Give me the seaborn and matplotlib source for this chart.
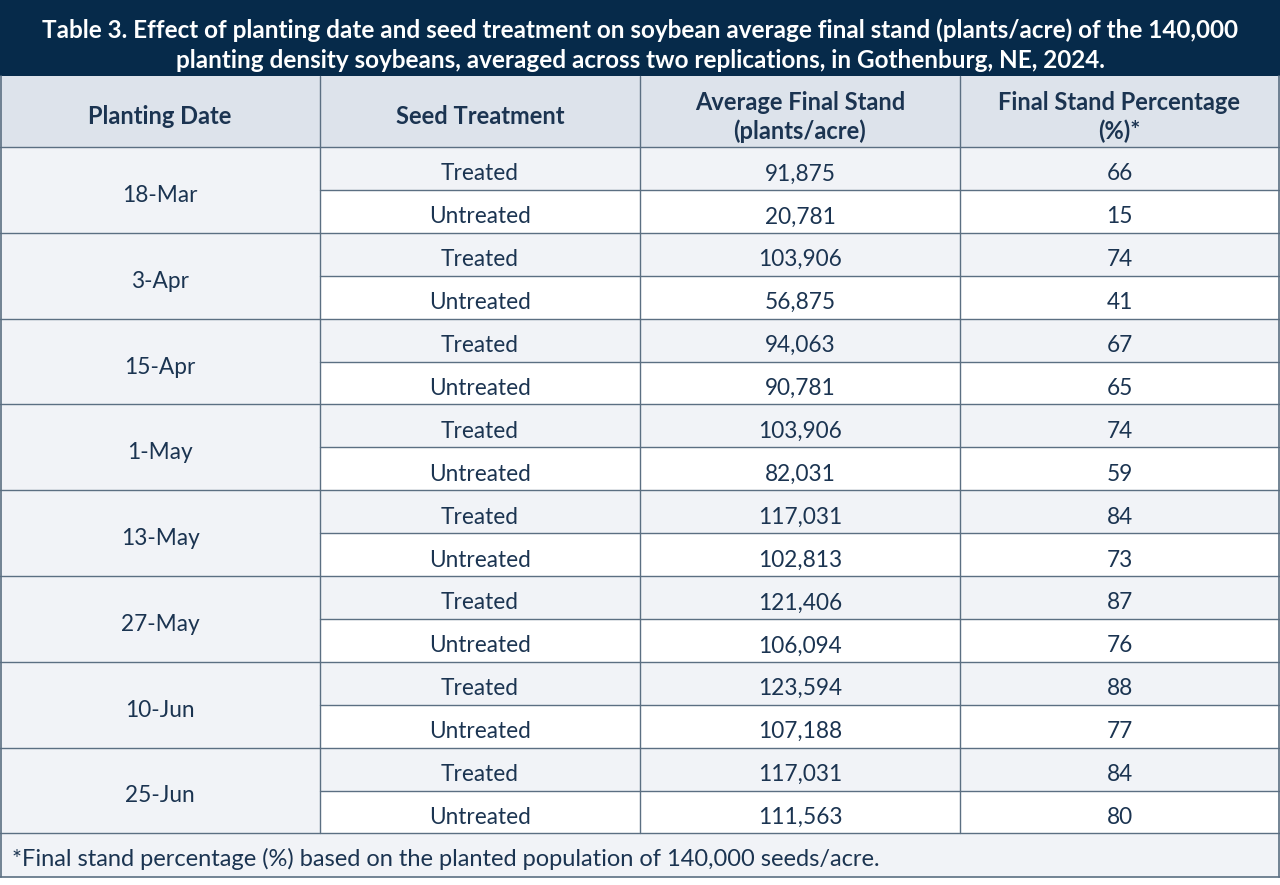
import numpy as np
import matplotlib.pyplot as plt
import seaborn as sns
from matplotlib.patches import Rectangle

# DATA
dates = ["18-Mar", "3-Apr", "15-Apr", "1-May", "13-May", "27-May", "10-Jun", "25-Jun"]
treatments = ["Treated", "Untreated"]
final_stand = [91875, 20781, 103906, 56875, 94063, 90781, 103906, 82031,
               117031, 102813, 121406, 106094, 123594, 107188, 117031, 111563]
stand_pct = [66, 15, 74, 41, 67, 65, 74, 59, 84, 73, 87, 76, 88, 77, 84, 80]
headers = ["Planting Date", "Seed Treatment", "Average Final Stand\n(plants/acre)",
           "Final Stand Percentage\n(%)*"]
title = ("Table 3. Effect of planting date and seed treatment on soybean average final stand (plants/acre) of the 140,000\n"
         "planting density soybeans, averaged across two replications, in Gothenburg, NE, 2024.")
footnote = "*Final stand percentage (%) based on the planted population of 140,000 seeds/acre."

# STYLE
sns.set_theme(style="white")
plt.rcParams["font.family"] = ["Lato", "DejaVu Sans"]

NAVY = "#062a4a"
HEAD_BG = "#dde3eb"
LIGHT_BG = "#f1f3f7"
LINE = "#5b6f82"
TEXT = "#1b3451"

W, H = 1280, 885
TITLE_H = 76
HEAD_H = 71
ROW_H = 42.9
FOOT_H = 44
col_x = [0, 320, 640, 960, 1279]
DY = 5.5  # optical centring offset for text
BODY_FS = 16.3

fig = plt.figure(figsize=(12.8, 8.85), dpi=100)
ax = fig.add_axes([0, 0, 1, 1])
ax.set_xlim(0, W)
ax.set_ylim(H, 0)
ax.axis("off")

# title band
ax.add_patch(Rectangle((0, 0), W, TITLE_H, color=NAVY, lw=0))
ax.text(W / 2, TITLE_H / 2 + 7, title, ha="center", va="center", color="white",
        fontsize=17.5, fontweight="bold", linespacing=1.38)

# header row
y0 = TITLE_H
ax.add_patch(Rectangle((0, y0), W, HEAD_H, color=HEAD_BG, lw=0))
for i, h in enumerate(headers):
    ax.text((col_x[i] + col_x[i + 1]) / 2, y0 + HEAD_H / 2 + DY, h, ha="center", va="center",
            color=TEXT, fontsize=17, fontweight="bold", linespacing=1.3)

# data rows
body_top = y0 + HEAD_H
n_rows = len(final_stand)
for r in range(n_rows):
    top = body_top + r * ROW_H
    bg = LIGHT_BG if r % 2 == 0 else "white"
    ax.add_patch(Rectangle((col_x[1], top), col_x[4] - col_x[1], ROW_H, color=bg, lw=0))
    cy = top + ROW_H / 2 + DY
    ax.text((col_x[1] + col_x[2]) / 2, cy, treatments[r % 2], ha="center", va="center",
            color=TEXT, fontsize=BODY_FS)
    ax.text((col_x[2] + col_x[3]) / 2, cy, f"{final_stand[r]:,}", ha="center", va="center",
            color=TEXT, fontsize=BODY_FS)
    ax.text((col_x[3] + col_x[4]) / 2, cy, str(stand_pct[r]), ha="center", va="center",
            color=TEXT, fontsize=BODY_FS)
    if r % 2 == 1:
        ax.plot([col_x[1], col_x[4]], [top, top], color=LINE, lw=1)

for d, date in enumerate(dates):
    top = body_top + d * 2 * ROW_H
    ax.add_patch(Rectangle((0, top), col_x[1], 2 * ROW_H, color=LIGHT_BG, lw=0))
    ax.text(col_x[1] / 2, top + ROW_H + DY, date, ha="center", va="center",
            color=TEXT, fontsize=BODY_FS)
    ax.plot([0, W], [top, top], color=LINE, lw=1)

body_bot = body_top + n_rows * ROW_H
ax.plot([0, W], [body_bot, body_bot], color=LINE, lw=1)

# vertical lines
for x in col_x[1:4]:
    ax.plot([x, x], [y0, body_bot], color=LINE, lw=1)

# footer
ax.add_patch(Rectangle((0, body_bot), W, FOOT_H, color=LIGHT_BG, lw=0))
ax.text(12, body_bot + FOOT_H / 2 + 4, footnote, ha="left", va="center",
        color=TEXT, fontsize=17)
foot_bot = body_bot + FOOT_H
ax.plot([0, W], [foot_bot, foot_bot], color=LINE, lw=1.2)

# outer borders
ax.plot([0.5, 0.5], [y0, foot_bot], color=LINE, lw=1.2)
ax.plot([col_x[4], col_x[4]], [y0, foot_bot], color=LINE, lw=1.2)

fig.savefig("out.png", dpi=100)
